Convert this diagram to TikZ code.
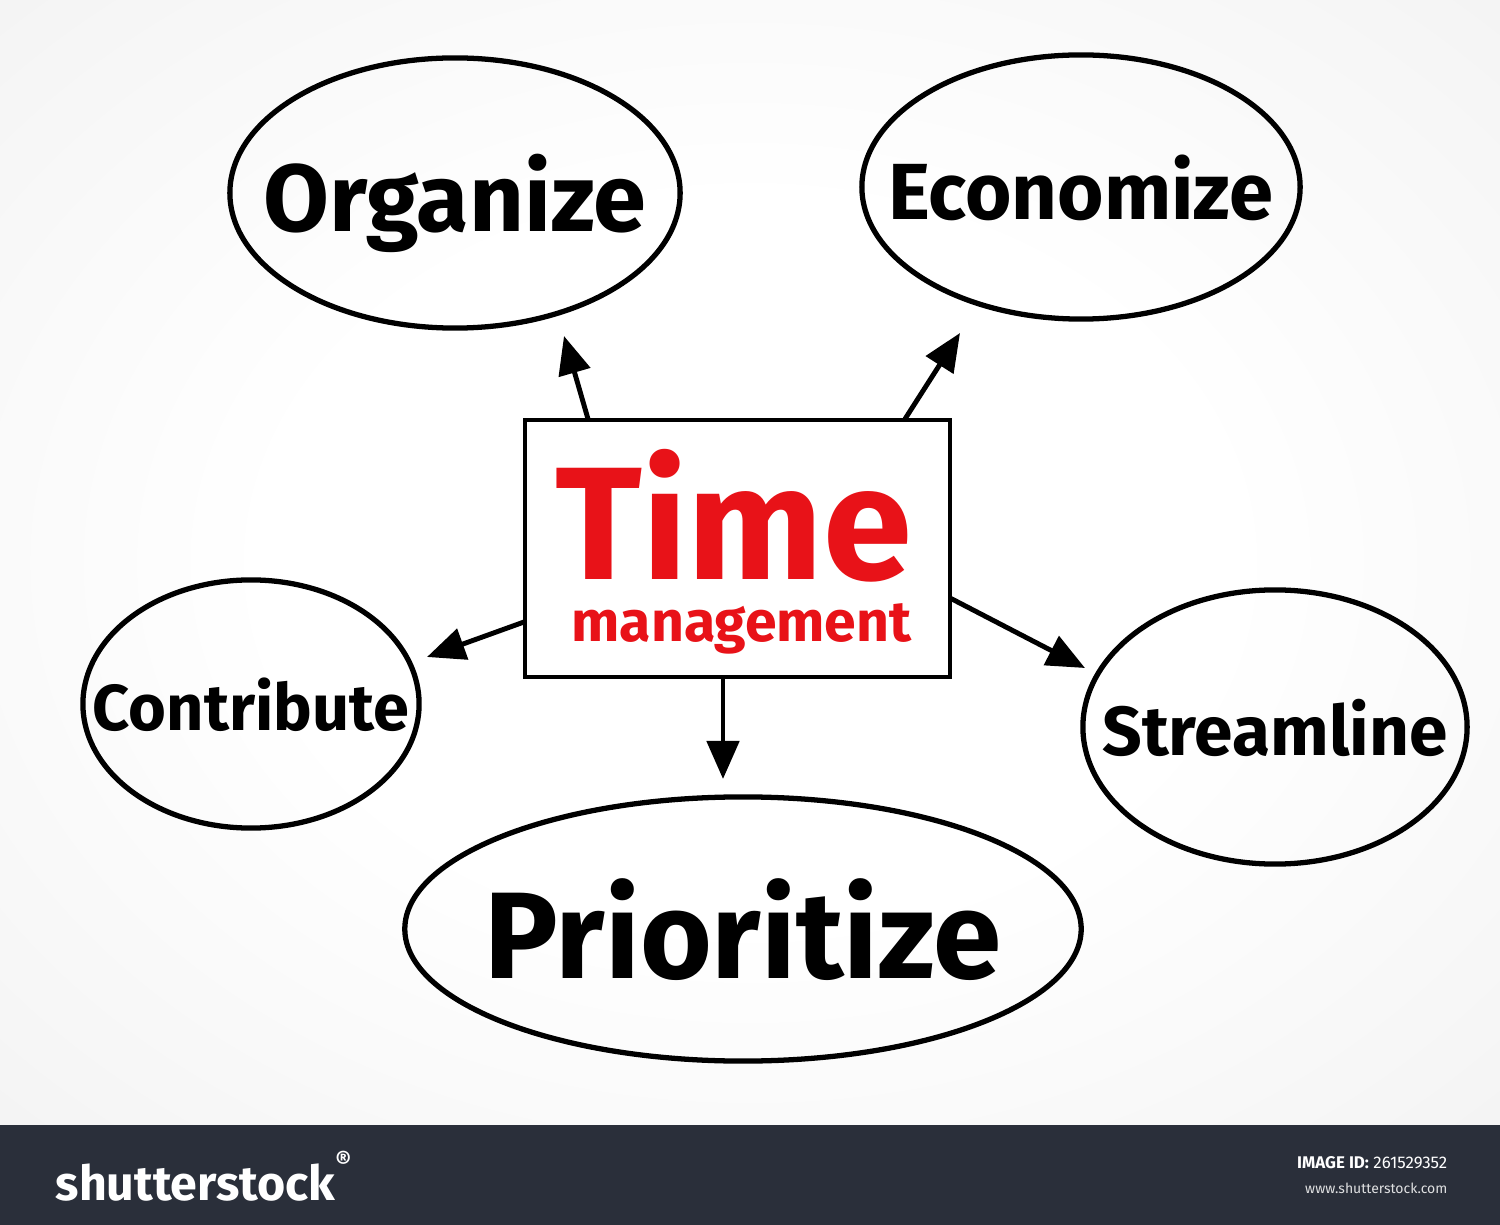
\documentclass[tikz,border=0pt]{standalone}
\usepackage{fontspec}
\setmainfont{Fira Sans}
\usetikzlibrary{shapes.geometric,arrows.meta}
\definecolor{tmred}{RGB}{232,18,24}
\definecolor{barcol}{RGB}{42,47,58}
\definecolor{bgA}{RGB}{246,246,246}
\definecolor{bgB}{RGB}{234,234,234}
\definecolor{bgC}{RGB}{220,220,220}
\pgfdeclareradialshading{bgshade}{\pgfpoint{0bp}{0bp}}{color(0bp)=(white); color(16bp)=(white); color(32bp)=(bgA); color(50bp)=(bgB); color(70bp)=(bgC); color(80bp)=(bgC)}
\newcommand{\fitw}[2]{\makebox[0pt]{\smash{\raisebox{-.5\height}{\resizebox{#1}{!}{#2}}}}}
\tikzset{
  bubble/.style={draw=black, line width=1.5pt, ellipse, inner sep=0pt},
  arr/.style={line width=1.4pt, -{Triangle[length=0.38cm,width=0.32cm]}},
  txt/.style={inner sep=0pt},
}
\begin{document}
\begin{tikzpicture}[x=0.01cm,y=-0.01cm]
\useasboundingbox (0,0) rectangle (1500,1225);
\shade[shading=bgshade] (0,0) rectangle (1500,1125);
\fill[barcol] (0,1125) rectangle (1500,1225);

% bubbles
\node[bubble, minimum width=4.5cm, minimum height=2.7cm] (org) at (455,193) {\fitw{3.83cm}{\bfseries Organize}};
\node[bubble, minimum width=4.38cm, minimum height=2.64cm] (eco) at (1081,187) {\fitw{3.85cm}{\bfseries Economize}};
\node[bubble, minimum width=3.36cm, minimum height=2.48cm] (con) at (251,704) {\fitw{3.16cm}{\bfseries Contribute}};
\node[bubble, minimum width=3.84cm, minimum height=2.74cm] (str) at (1275,727) {\fitw{3.45cm}{\bfseries Streamline}};
\node[bubble, minimum width=6.76cm, minimum height=2.64cm] (pri) at (743,929) {\fitw{5.17cm}{\bfseries Prioritize}};

% centre
\node[draw, line width=1.2pt, fill=white, text=tmred, minimum width=4.25cm, minimum height=2.57cm, inner sep=0pt] (tm) at (737.5,548.5)
  {\makebox[0pt]{\smash{\raisebox{-0.12cm}{\begin{tabular}{@{}c@{}}\hspace*{-0.08cm}\resizebox{3.56cm}{!}{\bfseries Time}\\[0.11cm]\hspace*{0.08cm}\resizebox{3.40cm}{!}{\bfseries management}\end{tabular}}}}};

% connectors
\coordinate (s1) at (588,419); \coordinate (t1) at (564,336);
\coordinate (s2) at (905,419); \coordinate (t2) at (960,333);
\coordinate (s3) at (524,622); \coordinate (t3) at (427,657);
\coordinate (s4) at (950,598); \coordinate (t4) at (1085,668);
\coordinate (s5) at (723,677); \coordinate (t5) at (723,779);
\draw[arr] (s1) -- (t1);
\draw[arr] (s2) -- (t2);
\draw[arr] (s3) -- (t3);
\draw[arr] (s4) -- (t4);
\draw[arr] (s5) -- (t5);

% footer
\node[txt, anchor=west, text=white] (logo) at (55,1176) {\resizebox{2.95cm}{!}{\bfseries shutterstock\raisebox{1.2ex}{\tiny ®}}};
\node[txt, anchor=east, text=white] (imgid) at (1448,1163) {\resizebox{1.5cm}{!}{\textbf{IMAGE ID:} 261529352}};
\node[txt, anchor=east, text=white!85!barcol] (url) at (1448,1188) {\resizebox{1.42cm}{!}{www.shutterstock.com}};
\end{tikzpicture}
\end{document}
